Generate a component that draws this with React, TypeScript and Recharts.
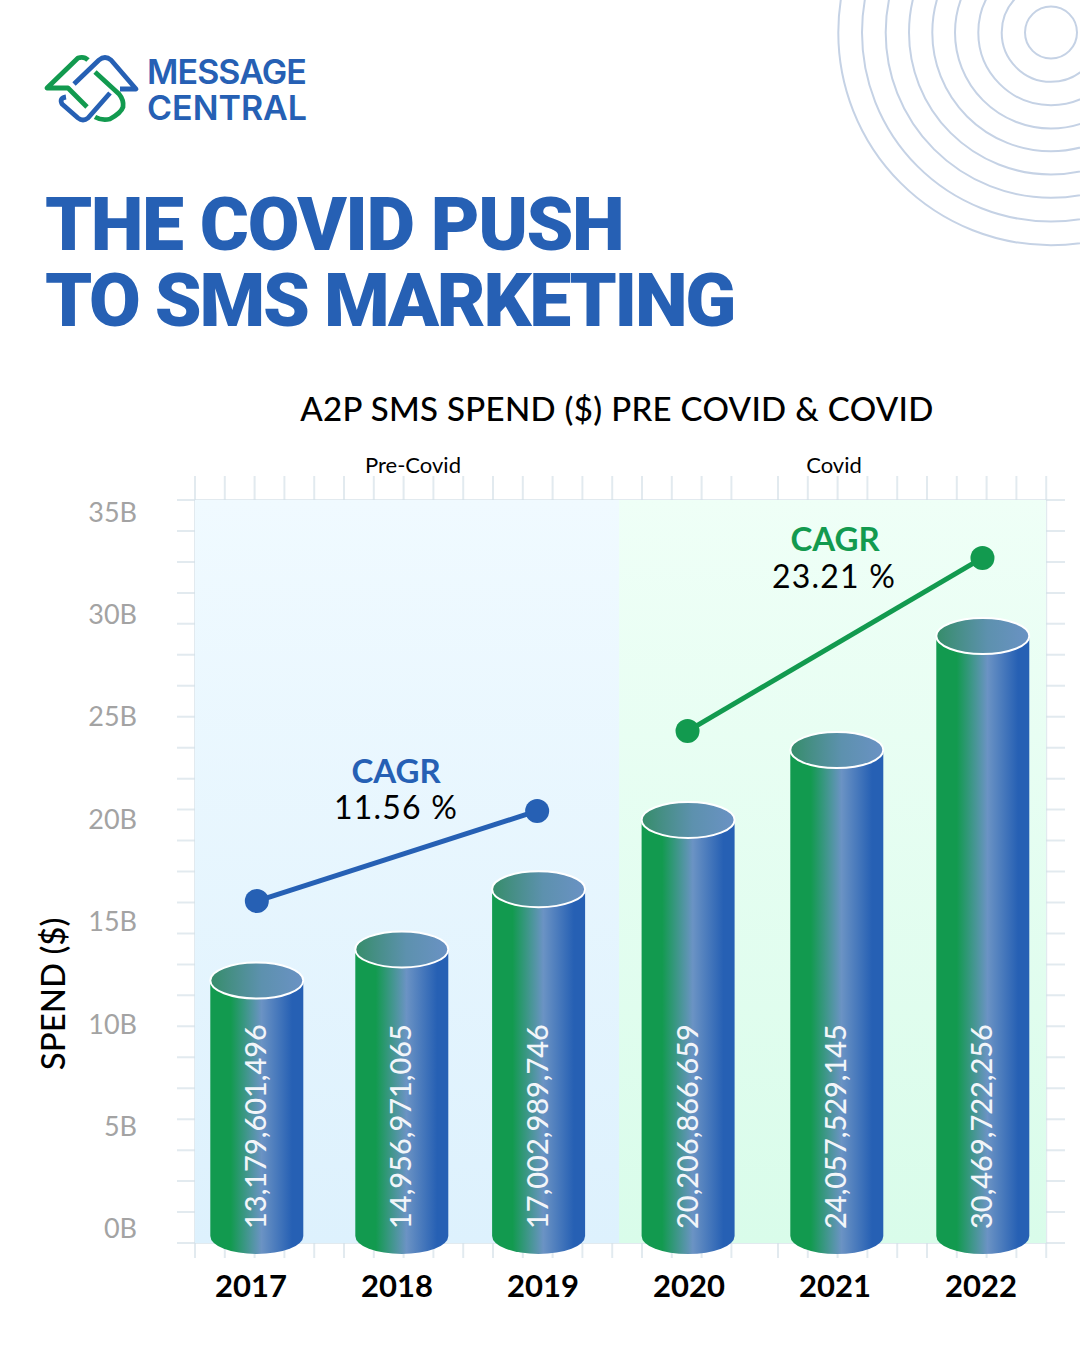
import {
  ComposedChart,
  Bar,
  Line,
  XAxis,
  YAxis,
  CartesianGrid,
  ReferenceArea,
  LabelList,
} from 'recharts'

const years = [2017, 2018, 2019, 2020, 2021, 2022]
// exact figures printed on the bars
const spend = [13179601496, 14956971065, 17002989746, 20206866659, 24057529145, 30469722256]
// bar heights as drawn, read against the axis (billions) - the artwork doesn't follow the printed figures exactly
const drawnLevels = [12.47, 13.99, 16.93, 20.31, 23.72, 29.29]
const yTicks = [0, 5, 10, 15, 20, 25, 30, 35]

// CAGR lines (x in years, y in billions)
const preCovidYears = [2017.04, 2018.96]
const preCovidLevels = [16.35, 20.75]
const covidYears = [2019.99, 2022.01]
const covidLevels = [24.65, 33.1]

const BLUE = '#2660b4'
const GREEN = '#129a4f'
const PX_PER_YEAR = 146
const yearAt = (px: number) => 2017 + (px - 251) / PX_PER_YEAR

// bars sit a few px off the evenly spaced year labels in the artwork
const barNudge = [5.7, 4.7, -4.5, -1, 1.7, 1.7]

const rows = years.map((year, i) => ({
  year,
  x: year + barNudge[i] / PX_PER_YEAR,
  level: drawnLevels[i],
  spend: spend[i],
}))
const preCovidLine = preCovidYears.map((x, i) => ({ lx: x, pre: preCovidLevels[i] }))
const covidLine = covidYears.map((x, i) => ({ lx: x, covid: covidLevels[i] }))

const gridX = [
  ...Array.from({ length: 19 }, (_, k) => 195 + 29.8 * k),
  ...Array.from({ length: 10 }, (_, k) => 778 + 29.8 * k),
]
const gridY = Array.from({ length: 25 }, (_, k) => 500 + 30.96 * k)
const ringRadii = [26, 49.3, 72.7, 96, 118.7, 142, 165.3, 189, 212.7]

const font = 'Lato, sans-serif'
const xDomain = [yearAt(177), yearAt(1065)]

function Cylinder(props: any) {
  const { x, y, width, height } = props
  const ry = 18
  const rx = width / 2
  return (
    <g>
      <path
        d={`M${x},${y} L${x},${y + height} A${rx},${ry} 0 0 0 ${x + width},${y + height} L${x + width},${y} Z`}
        fill="url(#bodyFill)"
      />
      <ellipse cx={x + rx} cy={y} rx={rx} ry={ry} fill="url(#capFill)" stroke="#fff" strokeWidth={2} />
    </g>
  )
}

function SpendLabel(props: any) {
  const { x, y, width, height, value } = props
  const cx = x + width / 2 - 2
  const by = y + height - 7
  return (
    <text
      x={cx}
      y={by}
      transform={`rotate(-90 ${cx} ${by})`}
      dominantBaseline="central"
      fill="#f2f5f9"
      fontFamily={font}
      fontWeight={500}
      fontSize={29}
    >
      {Number(value).toLocaleString('en-US')}
    </text>
  )
}

function YTick(props: any) {
  const { y, payload } = props
  return (
    <text x={137} y={y - 8} textAnchor="end" dominantBaseline="central" fill="#a3a3a3" fontFamily={font} fontSize={27}>
      {`${payload.value}B`}
    </text>
  )
}

function Txt({ x, y, size, color = '#000', weight = 400, spacing = 0, children }: any) {
  return (
    <div
      style={{
        position: 'absolute',
        left: x,
        top: y,
        transform: 'translate(-50%, -50%)',
        whiteSpace: 'nowrap',
        fontFamily: font,
        fontSize: size,
        color,
        fontWeight: weight,
        letterSpacing: spacing,
      }}
    >
      {children}
    </div>
  )
}

export default function App() {
  return (
    <div style={{ position: 'absolute', left: 0, top: 0, width: 1080, height: 1350, overflow: 'hidden', background: '#fff' }}>
      <svg width={1080} height={1350} style={{ position: 'absolute', left: 0, top: 0 }}>
        {ringRadii.map((r) => (
          <circle key={r} cx={1051} cy={32.5} r={r} fill="none" stroke="#c5d2e5" strokeWidth={2} />
        ))}
        <g fill="none" strokeWidth={4.8} strokeLinejoin="round" strokeLinecap="butt">
          <path d="M88,60 Q84,56 78,58 L47,88 L68,88 L87,107" stroke={GREEN} />
          <path d="M74,84 L99,60 Q105,55 111,60 L136,89 L120,89" stroke={BLUE} />
          <path d="M95,72 L119,94 Q124,100 123,107 Q121,113 110,119 Q102,121 95,117" stroke={GREEN} />
          <path d="M66,97 Q59,98 62,104 L78,118 Q83,122 88,118 L110,93" stroke={BLUE} />
        </g>
        <text x={52} y={994} transform="rotate(-90 52 994)" textAnchor="middle" dominantBaseline="central" fontFamily={font} fontSize={33} fontWeight={500} fill="#000">
          SPEND ($)
        </text>
      </svg>

      <div style={{ position: 'absolute', left: 147, top: 54, fontFamily: 'Inter, sans-serif', fontWeight: 600, fontSize: 34, lineHeight: '36px', color: BLUE }}>
        <div style={{ letterSpacing: -0.9 }}>MESSAGE</div>
        <div style={{ letterSpacing: 0 }}>CENTRAL</div>
      </div>

      <div style={{ position: 'absolute', left: 45, top: 186, fontFamily: 'Roboto, sans-serif', fontWeight: 900, fontSize: 75, lineHeight: '76px', color: BLUE, whiteSpace: 'nowrap' }}>
        <div style={{ letterSpacing: -1.45 }}>THE COVID PUSH</div>
        <div style={{ letterSpacing: -2.3 }}>TO SMS MARKETING</div>
      </div>

      <ComposedChart
        width={1080}
        height={1350}
        data={rows}
        margin={{ top: 476, right: 15, bottom: 0, left: 0 }}
        style={{ position: 'absolute', left: 0, top: 0 }}
      >
        <defs>
          <linearGradient id="bodyFill" x1="0" y1="0" x2="1" y2="0">
            <stop offset="0.22" stopColor={GREEN} />
            <stop offset="0.55" stopColor="#6b93c4" />
            <stop offset="0.88" stopColor={BLUE} />
          </linearGradient>
          <linearGradient id="capFill" x1="0" y1="0" x2="1" y2="0">
            <stop offset="0" stopColor="#368d6a" />
            <stop offset="0.55" stopColor="#5d91ae" />
            <stop offset="1" stopColor="#6a92c4" />
          </linearGradient>
          <linearGradient id="preFill" x1="0" y1="0" x2="0" y2="1">
            <stop offset="0" stopColor="#f0faff" />
            <stop offset="1" stopColor="#ddf1fd" />
          </linearGradient>
          <linearGradient id="covidFill" x1="0" y1="0" x2="0" y2="1">
            <stop offset="0" stopColor="#effff7" />
            <stop offset="1" stopColor="#d9fcea" />
          </linearGradient>
        </defs>
        <ReferenceArea x1={yearAt(195)} x2={yearAt(619)} y1={-0.34} y2={35.93} fill="url(#preFill)" fillOpacity={1} stroke="none" />
        <ReferenceArea x1={yearAt(619)} x2={yearAt(1046)} y1={-0.34} y2={35.93} fill="url(#covidFill)" fillOpacity={1} stroke="none" />
        <CartesianGrid horizontalPoints={gridY} verticalPoints={gridX} stroke="#d2dee6" strokeWidth={2} strokeOpacity={0.65} />
        <XAxis
          dataKey="x"
          type="number"
          domain={xDomain}
          allowDataOverflow
          ticks={years}
          interval={0}
          tickFormatter={(v) => String(v)}
          axisLine={false}
          tickLine={false}
          height={92}
          tickMargin={11}
          tick={{ fill: '#000', fontFamily: font, fontSize: 31, fontWeight: 700 }}
        />
        <XAxis xAxisId="cagr" dataKey="lx" type="number" domain={xDomain} allowDataOverflow hide height={92} />
        <YAxis
          type="number"
          domain={[-1.074, 37.1]}
          allowDataOverflow
          ticks={yTicks}
          interval={0}
          width={177}
          axisLine={false}
          tickLine={false}
          tick={<YTick />}
        />
        <Bar dataKey="level" barSize={93} shape={<Cylinder />} isAnimationActive={false}>
          <LabelList dataKey="spend" content={<SpendLabel />} />
        </Bar>
        <Line xAxisId="cagr" data={preCovidLine} dataKey="pre" stroke={BLUE} strokeWidth={5} dot={{ r: 12, fill: BLUE, stroke: 'none' }} isAnimationActive={false} legendType="none" />
        <Line xAxisId="cagr" data={covidLine} dataKey="covid" stroke={GREEN} strokeWidth={5} dot={{ r: 12, fill: GREEN, stroke: 'none' }} isAnimationActive={false} legendType="none" />
      </ComposedChart>

      <Txt x={617} y={408} size={33} weight={500} spacing={0.33}>A2P SMS SPEND ($) PRE COVID &amp; COVID</Txt>
      <Txt x={413} y={464} size={22}>Pre-Covid</Txt>
      <Txt x={834} y={464} size={22}>Covid</Txt>
      <Txt x={396} y={770} size={33} weight={700} color={BLUE}>CAGR</Txt>
      <Txt x={396} y={806} size={32} spacing={1.2}>11.56 %</Txt>
      <Txt x={835} y={538} size={33} weight={700} color={GREEN}>CAGR</Txt>
      <Txt x={834} y={575} size={32} spacing={1.2}>23.21 %</Txt>
    </div>
  )
}
